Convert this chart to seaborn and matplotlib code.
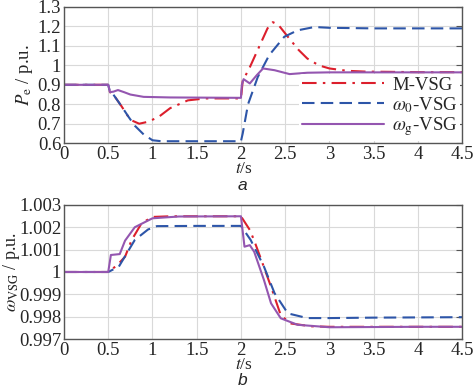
import matplotlib
matplotlib.use("Agg")
import matplotlib.pyplot as plt
import seaborn as sns
import pandas as pd

# ---- data: panel a (Pe) ----
t_m_a = [0, 0.5, 0.52, 0.55, 0.65, 0.75, 0.85, 0.95, 1.07, 1.2, 1.4, 1.6, 2.0, 2.02, 2.1, 2.2, 2.3, 2.36, 2.42, 2.53, 2.65, 2.75, 2.88, 3.0, 3.2, 3.4, 4.0, 4.5]
p_m = [0.9, 0.9, 0.862, 0.855, 0.79, 0.72, 0.70, 0.71, 0.735, 0.78, 0.82, 0.83, 0.83, 0.92, 0.99, 1.09, 1.19, 1.222, 1.21, 1.147, 1.08, 1.035, 1.0, 0.984, 0.972, 0.968, 0.965, 0.965]

t_0_a = [0, 0.5, 0.52, 0.55, 0.65, 0.73, 0.8, 0.9, 1.0, 1.1, 1.5, 2.0, 2.02, 2.08, 2.19, 2.32, 2.49, 2.64, 2.83, 3.0, 3.5, 4.0, 4.5]
p_0 = [0.9, 0.9, 0.862, 0.855, 0.79, 0.735, 0.69, 0.645, 0.615, 0.61, 0.61, 0.61, 0.65, 0.80, 0.94, 1.053, 1.147, 1.18, 1.197, 1.193, 1.19, 1.19, 1.19]

t_g_a = [0, 0.5, 0.52, 0.56, 0.61, 0.68, 0.75, 0.9, 1.2, 2.0, 2.01, 2.03, 2.1, 2.18, 2.25, 2.38, 2.55, 2.75, 3.0, 3.5, 4.0, 4.5]
p_g = [0.9, 0.9, 0.862, 0.865, 0.873, 0.862, 0.85, 0.838, 0.835, 0.833, 0.9, 0.929, 0.907, 0.95, 0.984, 0.975, 0.955, 0.962, 0.964, 0.964, 0.964, 0.964]

# ---- data: panel b (omega) ----
t_m_b = [0, 0.5, 0.6, 0.69, 0.765, 0.877, 1.0, 1.2, 2.0, 2.1, 2.15, 2.23, 2.34, 2.45, 2.56, 2.8, 3.0, 4.0, 4.5]
w_m = [1.0, 1.0, 1.0003, 1.00068, 1.00143, 1.00218, 1.00246, 1.00249, 1.00249, 1.00188, 1.0014, 1.00054, 0.99934, 0.99807, 0.9977, 0.99757, 0.99755, 0.99755, 0.99755]

t_0_b = [0, 0.5, 0.62, 0.8, 0.95, 1.05, 1.5, 2.0, 2.11, 2.26, 2.38, 2.53, 2.75, 3.0, 3.5, 4.0, 4.5]
w_0 = [1.0, 1.0, 1.00024, 1.00143, 1.0019, 1.00205, 1.00206, 1.00206, 1.00143, 1.00024, 0.99905, 0.99815, 0.99794, 0.99794, 0.99796, 0.99797, 0.99798]

t_g_b = [0, 0.5, 0.53, 0.63, 0.69, 0.8, 1.0, 1.3, 2.0, 2.04, 2.1, 2.15, 2.26, 2.34, 2.45, 2.64, 3.0, 4.0, 4.5]
w_g = [1.0, 1.0, 1.00076, 1.0008, 1.0014, 1.002, 1.0024, 1.00248, 1.00249, 1.00113, 1.0012, 1.0009, 0.99964, 0.9986, 0.99793, 0.99764, 0.99753, 0.99755, 0.99755]

labels = ["M-VSG", r"$\omega_0$-VSG", r"$\omega_\mathrm{g}$-VSG"]
x_ticks = [0, 0.5, 1, 1.5, 2, 2.5, 3, 3.5, 4, 4.5]
x_ticklabels = ["0", "0.5", "1", "1.5", "2", "2.5", "3", "3.5", "4", "4.5"]
ya_ticks = [0.6, 0.7, 0.8, 0.9, 1.0, 1.1, 1.2, 1.3]
ya_ticklabels = ["0.6", "0.7", "0.8", "0.9", "1", "1.1", "1.2", "1.3"]
yb_ticks = [0.997, 0.998, 0.999, 1.0, 1.001, 1.002, 1.003]
yb_ticklabels = ["0.997", "0.998", "0.999", "1", "1.001", "1.002", "1.003"]

sns.set_style("white")
plt.rcParams["font.family"] = ["Liberation Serif", "DejaVu Serif"]
plt.rcParams["mathtext.fontset"] = "stix"

RED = "#dc1f2c"
BLUE = "#2d55a8"
PURPLE = "#9456b0"
styles = [
    dict(color=RED, dashes=(7, 3, 1.2, 3)),
    dict(color=BLUE, dashes=(6, 3)),
    dict(color=PURPLE, dashes=()),
]

fig = plt.figure(figsize=(4.74, 3.88), dpi=100)
ax1 = fig.add_axes([0.135, 0.631, 0.840, 0.351])
ax2 = fig.add_axes([0.135, 0.126, 0.840, 0.346])

def draw(ax, series):
    for (t, v), lab, st in zip(series, labels, styles):
        df = pd.DataFrame({"t": t, "v": v})
        sns.lineplot(data=df, x="t", y="v", ax=ax, color=st["color"], lw=1.5, label=lab)
        line = ax.get_lines()[-1]
        if st["dashes"]:
            line.set_dashes(st["dashes"])

draw(ax1, [(t_m_a, p_m), (t_0_a, p_0), (t_g_a, p_g)])
draw(ax2, [(t_m_b, w_m), (t_0_b, w_0), (t_g_b, w_g)])

for ax in (ax1, ax2):
    ax.set_xlim(0, 4.5)
    ax.set_xticks(x_ticks)
    ax.set_xticklabels(x_ticklabels)
    ax.grid(True, color="#d9d9d9", lw=0.8)
    ax.tick_params(direction="in", length=4, labelsize=13.5, top=False, right=True,
                   color="#555555", pad=2)
    for s in ax.spines.values():
        s.set_color("#555555")
        s.set_linewidth(1.0)
    ax.set_xlabel("")

ax1.set_ylim(0.6, 1.3)
ax1.set_yticks(ya_ticks)
ax1.set_yticklabels(ya_ticklabels)
ax1.set_ylabel(r"$P_\mathrm{e}$ / p.u.", fontsize=13.5, labelpad=2)

ax2.set_ylim(0.997, 1.003)
ax2.set_yticks(yb_ticks)
ax2.set_yticklabels(yb_ticklabels)
ax2.set_ylabel(r"$\omega_\mathrm{VSG}$ / p.u.", fontsize=13, labelpad=-2)

leg = ax1.legend(loc="lower right", fontsize=13.5, frameon=True, handlelength=4.4,
                 borderaxespad=0.1, labelspacing=0.05, handletextpad=0.4,
                 borderpad=0.15)
leg.get_frame().set_edgecolor("none")
leg.get_frame().set_facecolor("white")
leg.get_frame().set_alpha(1)
if ax2.get_legend():
    ax2.get_legend().remove()

fig.text(0.515, 1 - 173 / 388, r"$t$/s", ha="center", va="baseline", fontsize=12.5)
fig.text(0.511, 1 - 190 / 388, "a", ha="center", va="baseline", fontsize=12.5,
         family=["Liberation Sans"], style="italic")
fig.text(0.515, 1 - 369 / 388, r"$t$/s", ha="center", va="baseline", fontsize=12.5)
fig.text(0.511, 1 - 385 / 388, "b", ha="center", va="baseline", fontsize=12.5,
         family=["Liberation Sans"], style="italic")

fig.savefig("out.png", dpi=100)
